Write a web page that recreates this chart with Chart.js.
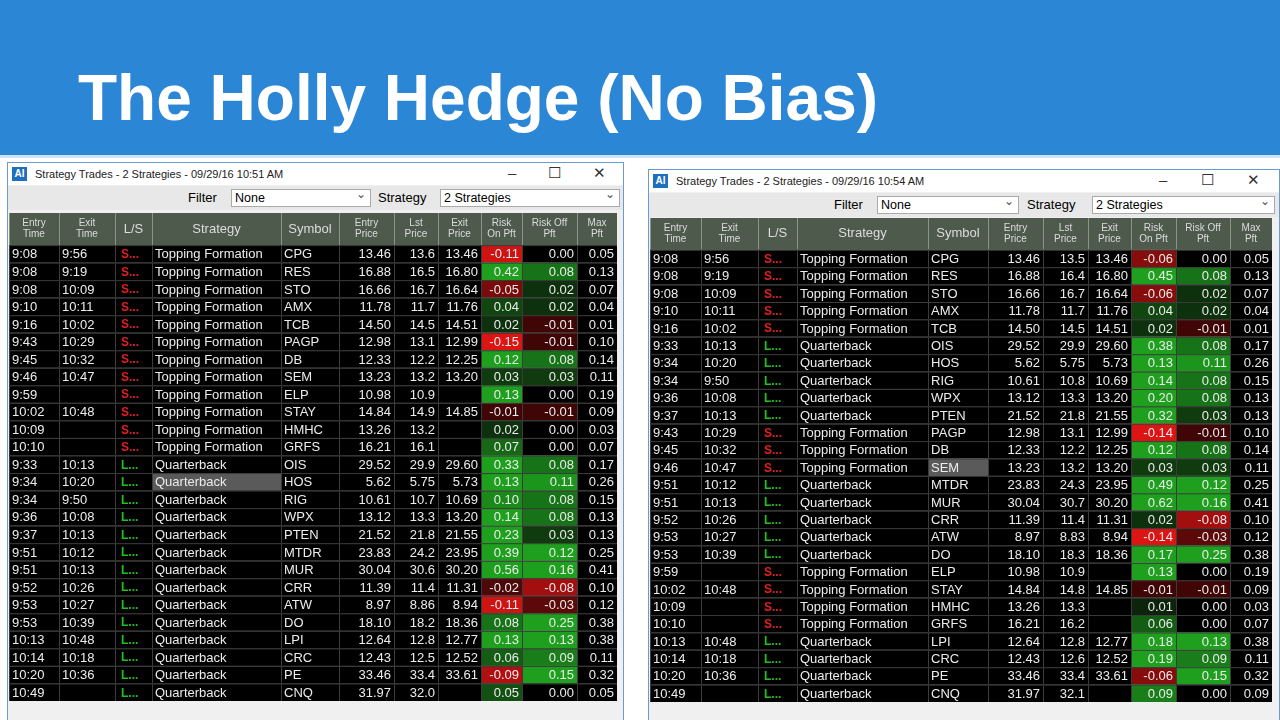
<!DOCTYPE html>
<html><head><meta charset="utf-8">
<script src="https://cdn.jsdelivr.net/npm/chart.js@4"></script>
<style>
body{margin:0;width:1280px;height:720px;overflow:hidden;background:#fff;font-family:"Liberation Sans",Arial,sans-serif;position:relative}
#hdr{position:absolute;left:0;top:0;width:1280px;height:155px;background:#2b86d6}
#hdr h1{position:absolute;left:78px;top:61px;margin:0;color:#fff;font:bold 64px "Liberation Sans",Arial,sans-serif}
#line{position:absolute;left:0;top:155px;width:1280px;height:3px;background:#cfe3f5}
.win{position:absolute;background:#f0f0f0;border:1px solid #6a9ad0}
.tb{position:absolute;left:0;top:0;right:0;height:22px;background:#fff;font-size:11px;color:#222}
.tb .ic{position:absolute;left:4px;top:4px;width:15px;height:14px;background:#1e6fc0;color:#fff;font:bold 10px sans-serif;text-align:center;line-height:14px}
.tb .t{position:absolute;left:27px;top:5px}
.tb .b{position:absolute;top:1px;font-size:15px;color:#333}
.fr{position:absolute;left:0;right:0;top:23px;height:24px;background:#e8e8e8;font-size:13px}
.fr span{position:absolute;top:4px}
.dd{position:absolute;top:3px;height:16px;background:#fff;border:1px solid #aaa;font-size:12.5px;line-height:16px;padding-left:3px}
.dd:after{content:"⌄";position:absolute;right:4px;top:-4px;font-size:12px;color:#555}
canvas{position:absolute}
</style></head><body>
<div id="hdr"><h1>The Holly Hedge (No Bias)</h1></div><div id="line"></div>

<div class="win" style="left:7px;top:162px;width:615px;height:560px">
 <div class="tb"><div class="ic">AI</div><div class="t">Strategy Trades - 2 Strategies - 09/29/16 10:51 AM</div>
 <div class="b" style="left:500px">–</div><div class="b" style="left:540px">☐</div><div class="b" style="left:585px">✕</div></div>
 <div class="fr"><span style="left:180px">Filter</span><div class="dd" style="left:223px;width:135px">None</div>
 <span style="left:370px">Strategy</span><div class="dd" style="left:432px;width:175px">2 Strategies</div></div>
</div>
<div class="win" style="left:648px;top:169px;width:630px;height:555px">
 <div class="tb"><div class="ic">AI</div><div class="t">Strategy Trades - 2 Strategies - 09/29/16 10:54 AM</div>
 <div class="b" style="left:510px">–</div><div class="b" style="left:552px">☐</div><div class="b" style="left:598px">✕</div></div>
 <div class="fr"><span style="left:185px">Filter</span><div class="dd" style="left:228px;width:137px">None</div>
 <span style="left:378px">Strategy</span><div class="dd" style="left:443px;width:178px">2 Strategies</div></div>
</div>
<canvas id="c1" style="left:9px;top:213px"></canvas>
<canvas id="c2" style="left:650px;top:218px"></canvas>
<script>
const columns=["Entry\nTime","Exit\nTime","L/S","Strategy","Symbol","Entry\nPrice","Lst\nPrice","Exit\nPrice","Risk\nOn Pft","Risk Off\nPft","Max\nPft"];
// left table
const L_entry=["9:08","9:08","9:08","9:10","9:16","9:43","9:45","9:46","9:59","10:02","10:09","10:10","9:33","9:34","9:34","9:36","9:37","9:51","9:51","9:52","9:53","9:53","10:13","10:14","10:20","10:49"];
const L_exit=["9:56","9:19","10:09","10:11","10:02","10:29","10:32","10:47","","10:48","","","10:13","10:20","9:50","10:08","10:13","10:12","10:13","10:26","10:27","10:39","10:48","10:18","10:36",""];
const L_ls=["S","S","S","S","S","S","S","S","S","S","S","S","L","L","L","L","L","L","L","L","L","L","L","L","L","L"];
const L_sym=["CPG","RES","STO","AMX","TCB","PAGP","DB","SEM","ELP","STAY","HMHC","GRFS","OIS","HOS","RIG","WPX","PTEN","MTDR","MUR","CRR","ATW","DO","LPI","CRC","PE","CNQ"];
const L_entryPx=["13.46","16.88","16.66","11.78","14.50","12.98","12.33","13.23","10.98","14.84","13.26","16.21","29.52","5.62","10.61","13.12","21.52","23.83","30.04","11.39","8.97","18.10","12.64","12.43","33.46","31.97"];
const L_lstPx=["13.6","16.5","16.7","11.7","14.5","13.1","12.2","13.2","10.9","14.9","13.2","16.1","29.9","5.75","10.7","13.3","21.8","24.2","30.6","11.4","8.86","18.2","12.8","12.5","33.4","32.0"];
const L_exitPx=["13.46","16.80","16.64","11.76","14.51","12.99","12.25","13.20","","14.85","","","29.60","5.73","10.69","13.20","21.55","23.95","30.20","11.31","8.94","18.36","12.77","12.52","33.61",""];
const L_riskOn=[-0.11,0.42,-0.05,0.04,0.02,-0.15,0.12,0.03,0.13,-0.01,0.02,0.07,0.33,0.13,0.10,0.14,0.23,0.39,0.56,-0.02,-0.11,0.08,0.13,0.06,-0.09,0.05];
const L_riskOff=[0.00,0.08,0.02,0.02,-0.01,-0.01,0.08,0.03,0.00,-0.01,0.00,0.00,0.08,0.11,0.08,0.08,0.03,0.12,0.16,-0.08,-0.03,0.25,0.13,0.09,0.15,0.00];
const L_max=[0.05,0.13,0.07,0.04,0.01,0.10,0.14,0.11,0.19,0.09,0.03,0.07,0.17,0.26,0.15,0.13,0.13,0.25,0.41,0.10,0.12,0.38,0.38,0.11,0.32,0.05];
// right table
const R_entry=["9:08","9:08","9:08","9:10","9:16","9:33","9:34","9:34","9:36","9:37","9:43","9:45","9:46","9:51","9:51","9:52","9:53","9:53","9:59","10:02","10:09","10:10","10:13","10:14","10:20","10:49"];
const R_exit=["9:56","9:19","10:09","10:11","10:02","10:13","10:20","9:50","10:08","10:13","10:29","10:32","10:47","10:12","10:13","10:26","10:27","10:39","","10:48","","","10:48","10:18","10:36",""];
const R_ls=["S","S","S","S","S","L","L","L","L","L","S","S","S","L","L","L","L","L","S","S","S","S","L","L","L","L"];
const R_sym=["CPG","RES","STO","AMX","TCB","OIS","HOS","RIG","WPX","PTEN","PAGP","DB","SEM","MTDR","MUR","CRR","ATW","DO","ELP","STAY","HMHC","GRFS","LPI","CRC","PE","CNQ"];
const R_entryPx=["13.46","16.88","16.66","11.78","14.50","29.52","5.62","10.61","13.12","21.52","12.98","12.33","13.23","23.83","30.04","11.39","8.97","18.10","10.98","14.84","13.26","16.21","12.64","12.43","33.46","31.97"];
const R_lstPx=["13.5","16.4","16.7","11.7","14.5","29.9","5.75","10.8","13.3","21.8","13.1","12.2","13.2","24.3","30.7","11.4","8.83","18.3","10.9","14.8","13.3","16.2","12.8","12.6","33.4","32.1"];
const R_exitPx=["13.46","16.80","16.64","11.76","14.51","29.60","5.73","10.69","13.20","21.55","12.99","12.25","13.20","23.95","30.20","11.31","8.94","18.36","","14.85","","","12.77","12.52","33.61",""];
const R_riskOn=[-0.06,0.45,-0.06,0.04,0.02,0.38,0.13,0.14,0.20,0.32,-0.14,0.12,0.03,0.49,0.62,0.02,-0.14,0.17,0.13,-0.01,0.01,0.06,0.18,0.19,-0.06,0.09];
const R_riskOff=[0.00,0.08,0.02,0.02,-0.01,0.08,0.11,0.08,0.08,0.03,-0.01,0.08,0.03,0.12,0.16,-0.08,-0.03,0.25,0.00,-0.01,0.00,0.00,0.13,0.09,0.15,0.00];
const R_max=[0.05,0.13,0.07,0.04,0.01,0.17,0.26,0.15,0.13,0.13,0.10,0.14,0.11,0.25,0.41,0.10,0.12,0.38,0.19,0.09,0.03,0.07,0.38,0.11,0.32,0.09];

const stratName=ls=>ls==="S"?"Topping Formation":"Quarterback";
function pftColor(v){
  const t=Math.min(1,Math.abs(v)/0.12);
  if(v>0) return `rgb(${Math.round(10+t*20)},${Math.round(25+t*135)},${Math.round(10+t*20)})`;
  if(v<0) return `rgb(${Math.round(50+t*170)},${Math.round(5+t*15)},${Math.round(5+t*15)})`;
  return "#000";
}
function makeTable(id,W,H,widths,hdrUnits,d,hl){
  const cv=document.getElementById(id); cv.width=W; cv.height=H; cv.style.width=W+"px"; cv.style.height=H+"px";
  const n=d.sym.length, edges=[0]; widths.forEach(w=>edges.push(edges[edges.length-1]+w));
  const plugin={id:"grid",afterDraw(ch){
    const c=ch.ctx,x=ch.scales.x,y=ch.scales.y;
    const X=i=>x.getPixelForValue(edges[i]), Y=v=>y.getPixelForValue(v);
    c.fillStyle="#4d5a4c"; c.fillRect(X(0),Y(-hdrUnits),X(11)-X(0),Y(0)-Y(-hdrUnits));
    c.textAlign="center"; c.textBaseline="middle";
    columns.forEach((h,i)=>{
      const cx=(X(i)+X(i+1))/2, lines=h.split("\n"), cy=(Y(-hdrUnits)+Y(0))/2;
      c.fillStyle="#dcdcdc"; c.font=lines.length>1?"10px 'Liberation Sans',Arial":"13px 'Liberation Sans',Arial";
      lines.forEach((l,k)=>c.fillText(l,cx,cy+(k-(lines.length-1)/2)*11));
      c.strokeStyle="#8a948a"; c.beginPath(); c.moveTo(X(i)+0.5,Y(-hdrUnits)); c.lineTo(X(i)+0.5,Y(0)); c.stroke();
    });
    for(let r=0;r<n;r++){
      const y0=Y(r),y1=Y(r+1),cy=(y0+y1)/2;
      const vals=[d.entry[r],d.exit[r],d.ls[r],stratName(d.ls[r]),d.sym[r],d.ep[r],d.lp[r],d.xp[r],d.on[r].toFixed(2),d.off[r].toFixed(2),d.mx[r].toFixed(2)];
      for(let i=0;i<11;i++){
        let bg="#000";
        if(i===8) bg=pftColor(d.on[r]); if(i===9) bg=pftColor(d.off[r]);
        if(hl && hl[0]===r && hl[1]===i) bg="#5a5a5a";
        c.fillStyle=bg; c.fillRect(X(i),y0,X(i+1)-X(i),y1-y0);
        c.strokeStyle="#3c3c3c"; c.lineWidth=1; c.strokeRect(X(i)+0.5,y0+0.5,X(i+1)-X(i),y1-y0);
        c.font="13px 'Liberation Sans',Arial"; c.textBaseline="middle";
        if(i===2){c.fillStyle=vals[i]==="S"?"#e02020":"#20c020"; c.textAlign="left"; c.font="bold 12px 'Liberation Sans',Arial"; c.fillText(vals[i]+"...",X(i)+6,cy+1); continue;}
        c.fillStyle="#ececec";
        if(i<5){c.textAlign="left"; c.fillText(vals[i],X(i)+3,cy+1);}
        else{c.textAlign="right"; c.fillText(vals[i],X(i+1)-3,cy+1);}
      }
    }
  }};
  new Chart(cv,{type:"scatter",data:{datasets:[{data:[]}]},plugins:[plugin],
    options:{animation:false,responsive:false,layout:{padding:0},plugins:{legend:{display:false},tooltip:{enabled:false}},
      scales:{x:{type:"linear",min:0,max:edges[11],display:false},y:{type:"linear",min:-hdrUnits,max:n,reverse:true,display:false}}}});
}
makeTable("c1",608,488,[50,56,37,129,58,55,44,43,41,55,40],1.83,
 {entry:L_entry,exit:L_exit,ls:L_ls,sym:L_sym,ep:L_entryPx,lp:L_lstPx,xp:L_exitPx,on:L_riskOn,off:L_riskOff,mx:L_max},[13,3]);
makeTable("c2",622,484,[51,57,39,131,60,55,45,43,45,54,42],1.83,
 {entry:R_entry,exit:R_exit,ls:R_ls,sym:R_sym,ep:R_entryPx,lp:R_lstPx,xp:R_exitPx,on:R_riskOn,off:R_riskOff,mx:R_max},[12,4]);
</script>
</body></html>
